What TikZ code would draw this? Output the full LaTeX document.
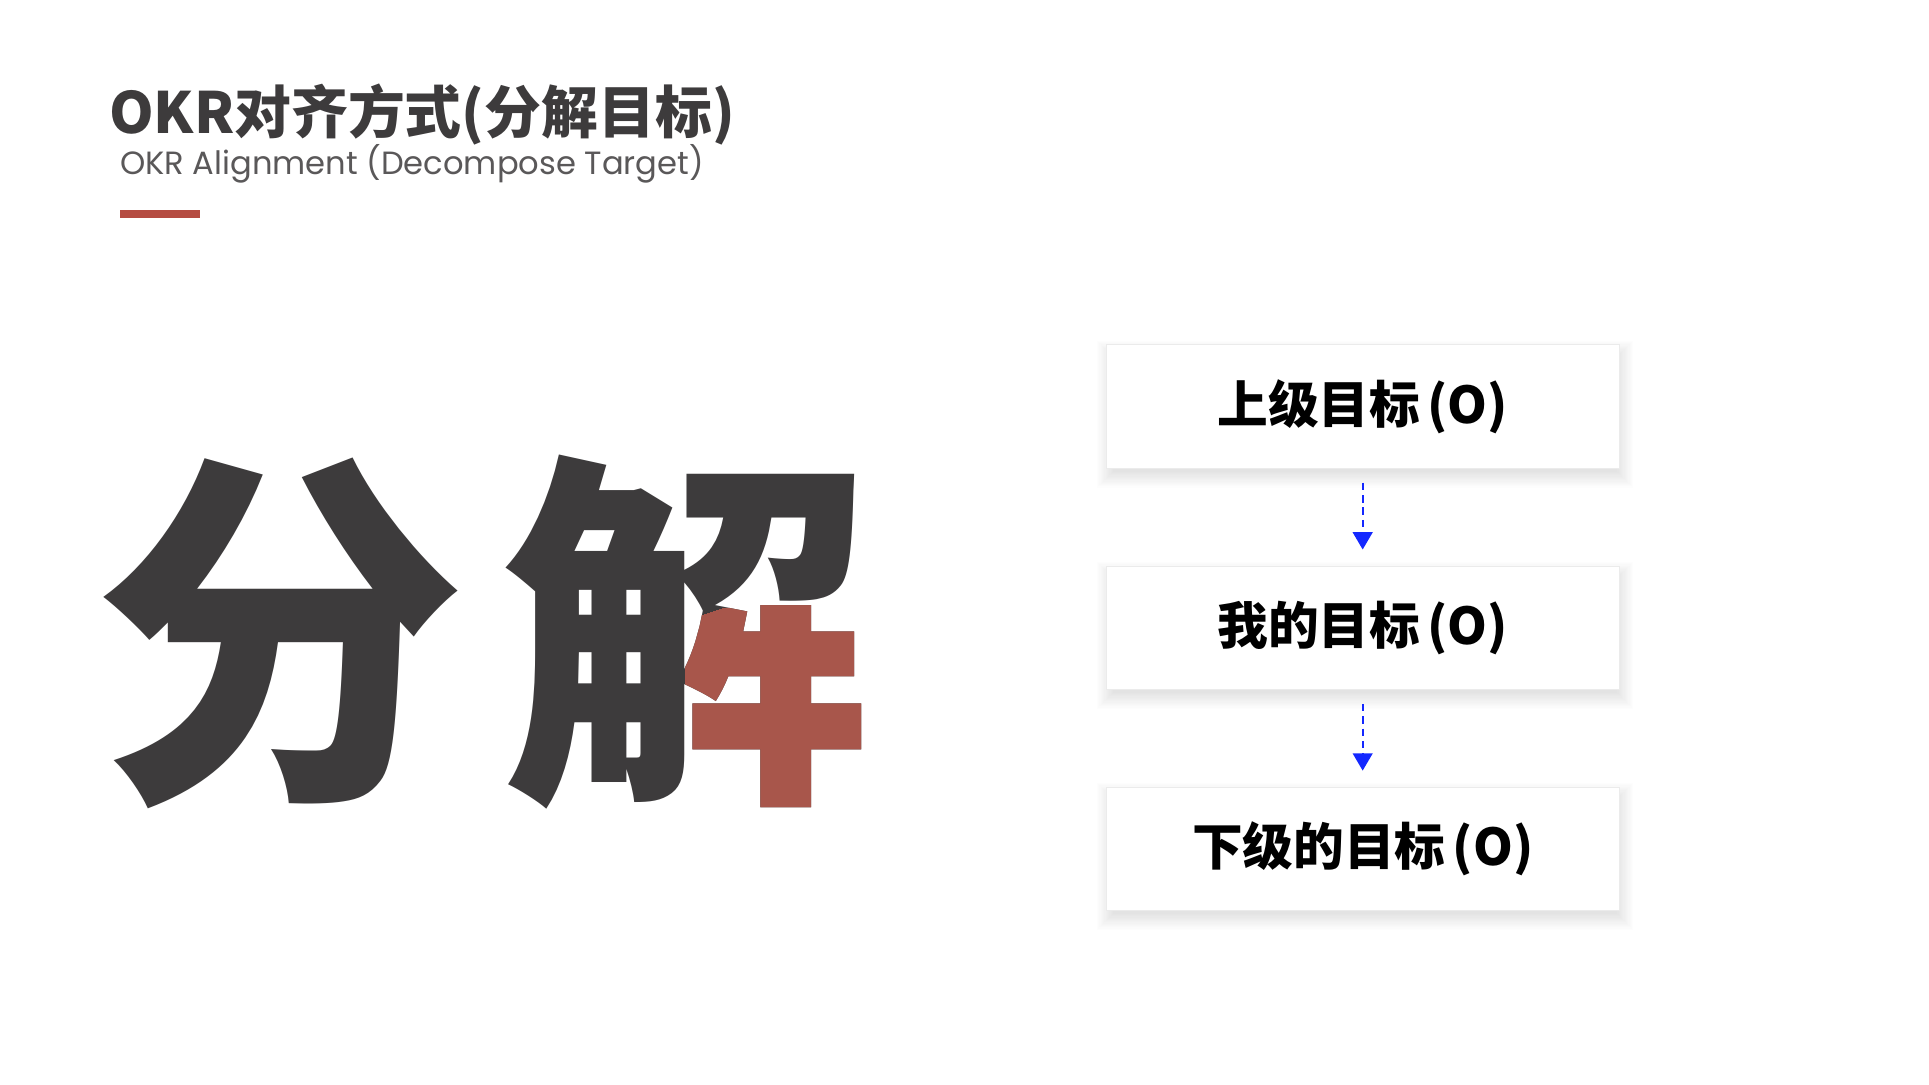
\documentclass[tikz,border=0pt]{standalone}
\usepackage{fontspec}
\newfontfamily\cjk{Noto Sans CJK SC}
\newfontfamily\cjkheavy{Noto Sans CJK SC Black}
\newfontfamily\poppins{Poppins}
\usetikzlibrary{positioning,arrows.meta,backgrounds}
\definecolor{darktext}{RGB}{61,59,60}
\definecolor{brick}{RGB}{181,76,66}
\definecolor{brickpart}{RGB}{168,86,75}
\definecolor{arrowblue}{RGB}{20,40,255}
\begin{document}
\begin{tikzpicture}[x=1pt,y=-1pt,
    goalbox/.style={draw=black!8,line width=0.8pt,fill=white,minimum width=415pt,minimum height=100pt,inner sep=0pt,
      font=\cjk\bfseries\fontsize{41}{41}\selectfont},
    dasharrow/.style={arrowblue,line width=1.5pt,dash pattern=on 6pt off 4pt,-{Triangle[width=16pt,length=14pt]},shorten <=11pt,shorten >=13pt},
    bigchar/.style={anchor=base west,inner sep=0pt,font=\cjkheavy\fontsize{300}{300}\selectfont}]
  \useasboundingbox (0,0) rectangle (1560,877);
  % heading
  \node[anchor=base west,inner sep=0pt,text=darktext,font=\cjkheavy\fontsize{46}{46}\selectfont] (title) at (88,108) {OKR对齐方式(分解目标)};
  \node[anchor=base west,inner sep=0pt,text=darktext!85,font=\poppins\fontsize{26}{26}\selectfont] (subtitle) at (97,141) {OKR Alignment (Decompose Target)};
  \fill[brick] (97,170) rectangle (162,176);
  % big word, lower right part of the second one in red
  \node[bigchar,text=darktext] (fen) at (76,625) {分};
  \node[bigchar,text=darktext] (jie) at (405,625) {解};
  \begin{scope}
    \clip (554,502) -- (571,496) -- (583,492) -- (612,488) -- (727,488) -- (727,690) -- (554,690) -- cycle;
    \node[bigchar,text=brickpart] (jiepart) at (405,625) {解};
  \end{scope}
  % goal chain
  \node[goalbox] (upper) at (1102,329) {上级目标\hspace{6pt}(O)};
  \node[goalbox,below=78pt of upper] (mine) {我的目标\hspace{6pt}(O)};
  \node[goalbox,below=78pt of mine] (lower) {下级的目标\hspace{6pt}(O)};
  \draw[dasharrow] (upper) -- (mine);
  \draw[dasharrow] (mine) -- (lower);
  % soft shadows
  \begin{scope}[on background layer]
    \fill[white] (0,0) rectangle (1560,877);
    \foreach \b in {upper,mine,lower}
      \foreach \e in {-4,...,9}
        \fill[black,opacity=0.006]
          ([xshift={(2-(\e))*1pt},yshift={(-6+(\e))*1pt}]\b.north west) rectangle
          ([xshift={(2+(\e))*1pt},yshift={(-6-(\e))*1pt}]\b.south east);
  \end{scope}
\end{tikzpicture}
\end{document}
